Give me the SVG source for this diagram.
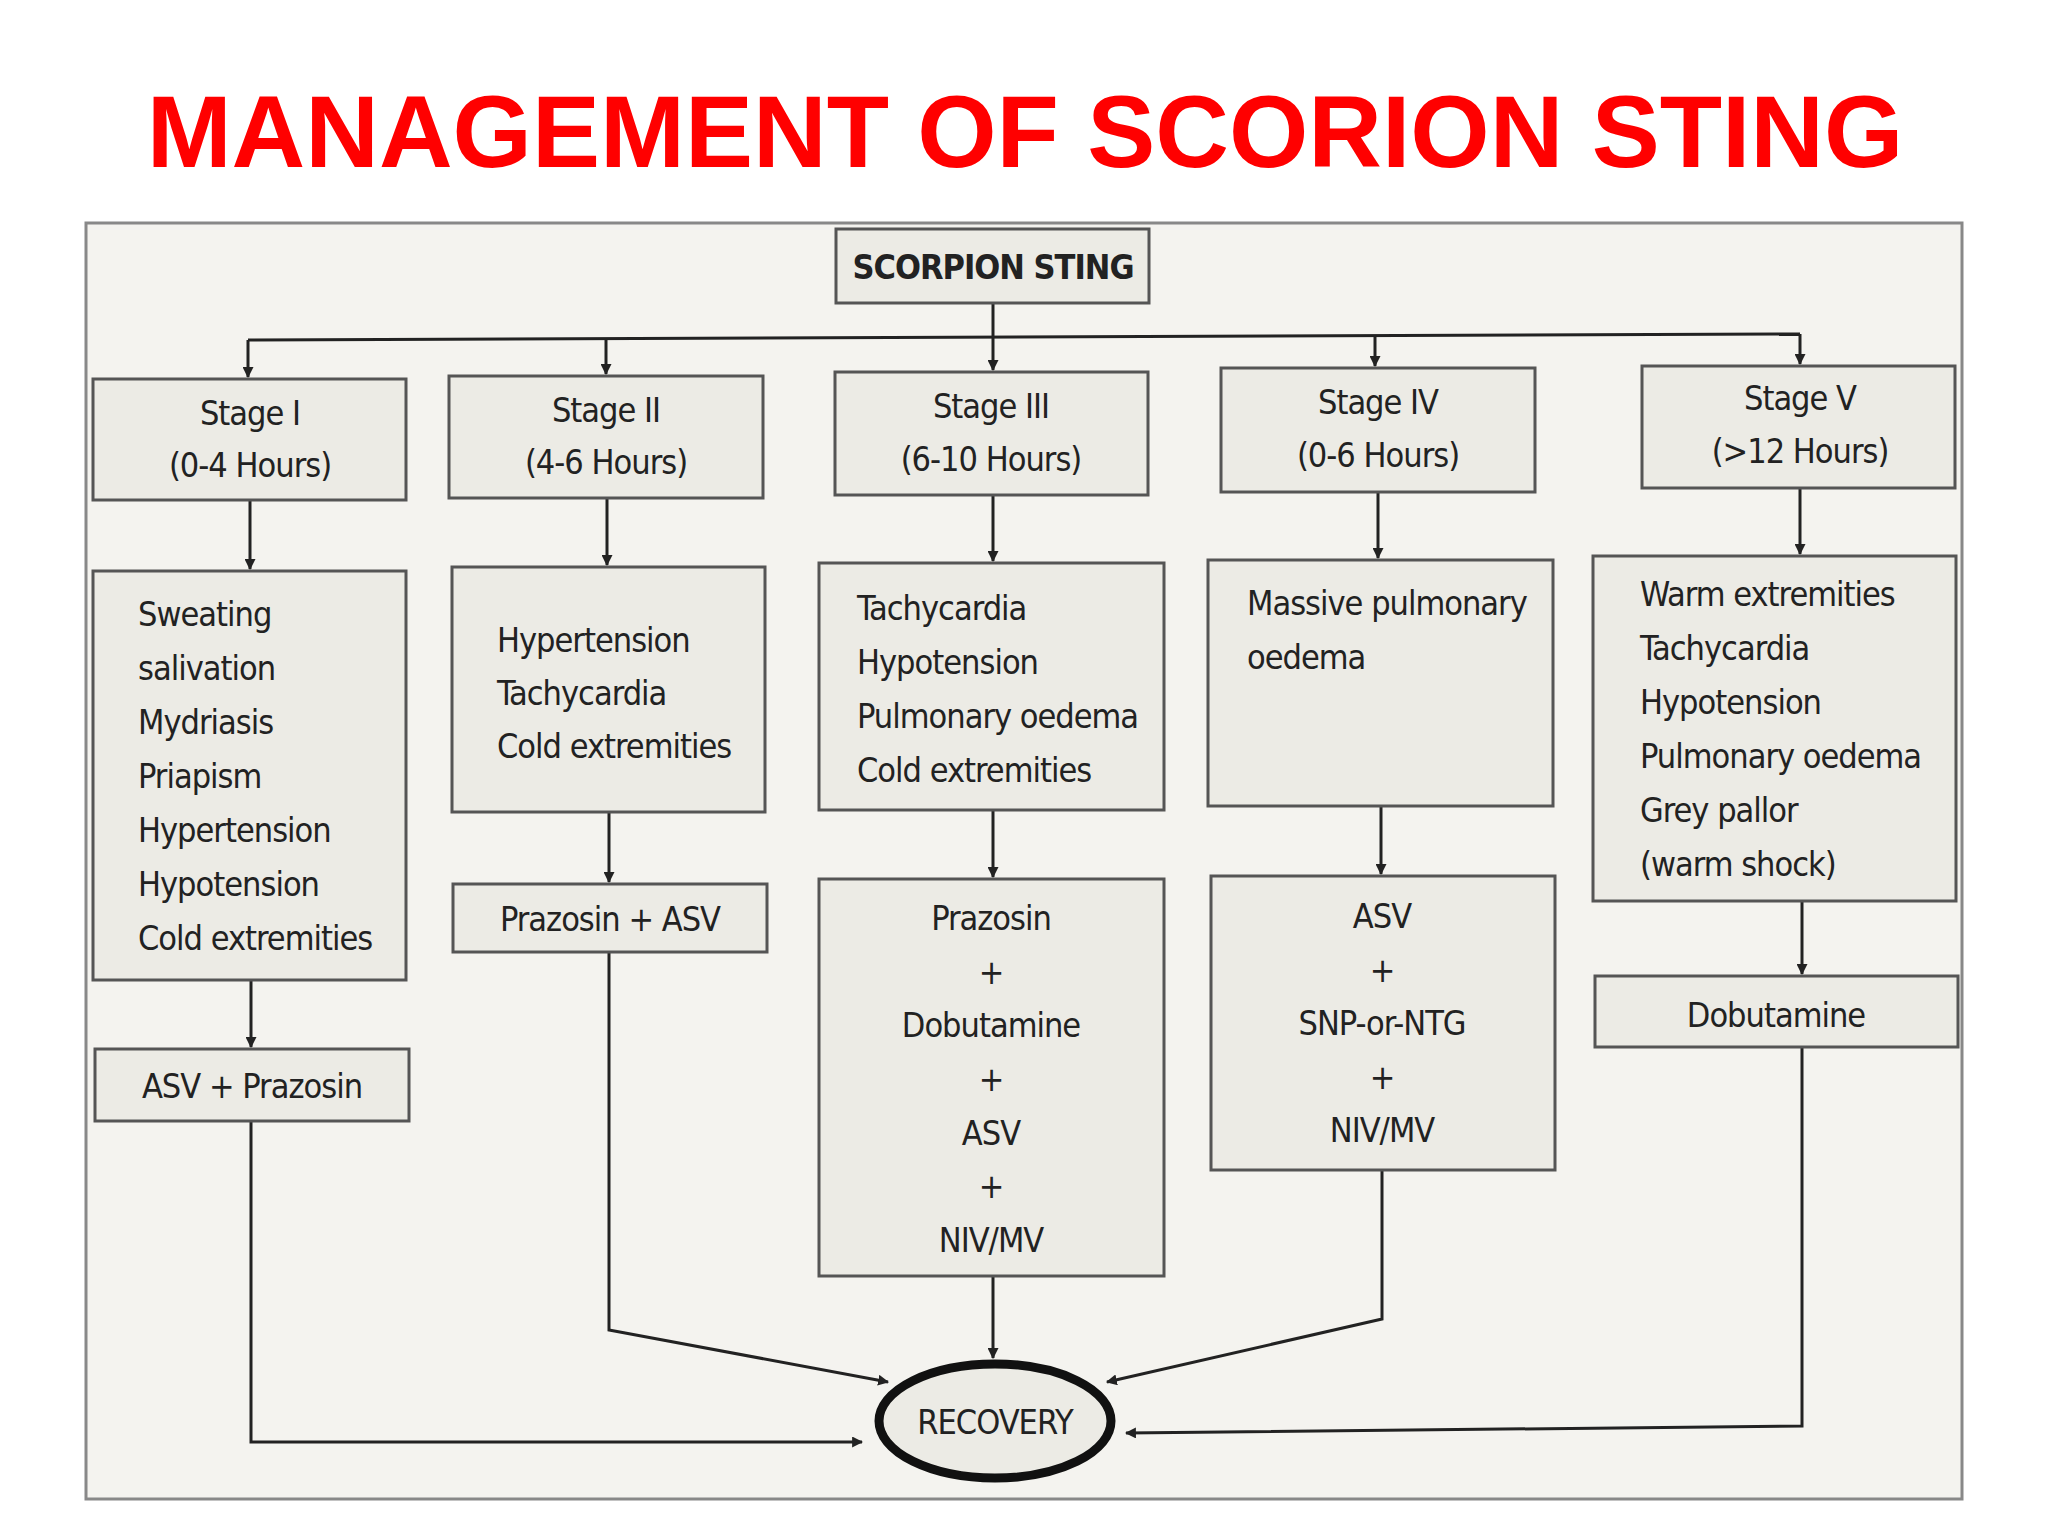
<svg xmlns="http://www.w3.org/2000/svg" width="2048" height="1536" viewBox="0 0 2048 1536">
<defs>
<marker id="ah" viewBox="0 0 10 10" refX="9" refY="5" markerWidth="11" markerHeight="11" orient="auto-start-reverse" markerUnits="userSpaceOnUse"><path d="M0,0 L10,5 L0,10 z" fill="#222"/></marker>
<style>
.box{fill:#ecebe5;stroke:#555;stroke-width:3}
.t{font-family:"Liberation Sans Narrow","DejaVu Sans Condensed","Liberation Sans",sans-serif;font-size:34px;letter-spacing:-1px;fill:#222}
.c{text-anchor:middle}
.ln{fill:none;stroke:#222;stroke-width:3}
.ar{fill:none;stroke:#222;stroke-width:3;marker-end:url(#ah)}
</style>
</defs>
<rect width="2048" height="1536" fill="#fff"/>
<text x="1025" y="167" text-anchor="middle" font-family="Liberation Sans,Arial,sans-serif" font-weight="bold" font-size="102" fill="#f00">MANAGEMENT OF SCORION STING</text>
<rect x="86" y="223" width="1876" height="1276" fill="#f4f3ef" stroke="#888" stroke-width="3"/>

<g id="connectors">
<line class="ln" x1="993" y1="303" x2="993" y2="337"/>
<line class="ln" x1="248" y1="340" x2="1800" y2="334"/>
<line class="ar" x1="248" y1="340" x2="248" y2="377"/>
<line class="ar" x1="606" y1="338" x2="606" y2="374"/>
<line class="ar" x1="993" y1="337" x2="993" y2="370"/>
<line class="ar" x1="1375" y1="335" x2="1375" y2="366"/>
<line class="ar" x1="1800" y1="334" x2="1800" y2="364"/>
<line class="ar" x1="250" y1="500" x2="250" y2="569"/>
<line class="ar" x1="607" y1="498" x2="607" y2="565"/>
<line class="ar" x1="993" y1="495" x2="993" y2="561"/>
<line class="ar" x1="1378" y1="492" x2="1378" y2="558"/>
<line class="ar" x1="1800" y1="488" x2="1800" y2="554"/>
<line class="ar" x1="251" y1="980" x2="251" y2="1047"/>
<line class="ar" x1="609" y1="812" x2="609" y2="882"/>
<line class="ar" x1="993" y1="810" x2="993" y2="877"/>
<line class="ar" x1="1381" y1="806" x2="1381" y2="874"/>
<line class="ar" x1="1802" y1="901" x2="1802" y2="974"/>
<path class="ar" d="M251,1121 V1442 H862"/>
<path class="ar" d="M609,952 V1330 L888,1382"/>
<path class="ar" d="M993,1276 V1358"/>
<path class="ar" d="M1382,1170 V1319 L1107,1382"/>
<path class="ar" d="M1802,1047 V1426 L1126,1433"/>
</g>

<g id="sting"><rect class="box" x="836" y="229" width="313" height="74"/><text class="t c" x="993" y="279" font-weight="bold">SCORPION STING</text></g>

<g id="stage1"><rect class="box" x="93" y="379" width="313" height="121"/><text class="t c" x="250" y="425">Stage I</text><text class="t c" x="250" y="477">(0-4 Hours)</text></g>
<g id="stage2"><rect class="box" x="449" y="376" width="314" height="122"/><text class="t c" x="606" y="422">Stage II</text><text class="t c" x="606" y="474">(4-6 Hours)</text></g>
<g id="stage3"><rect class="box" x="835" y="372" width="313" height="123"/><text class="t c" x="991" y="418">Stage III</text><text class="t c" x="991" y="471">(6-10 Hours)</text></g>
<g id="stage4"><rect class="box" x="1221" y="368" width="314" height="124"/><text class="t c" x="1378" y="414">Stage IV</text><text class="t c" x="1378" y="467">(0-6 Hours)</text></g>
<g id="stage5"><rect class="box" x="1642" y="366" width="313" height="122"/><text class="t c" x="1800" y="410">Stage V</text><text class="t c" x="1800" y="463">(&gt;12 Hours)</text></g>

<g id="sym1"><rect class="box" x="93" y="571" width="313" height="409"/>
<text class="t" x="138" y="626">Sweating</text><text class="t" x="138" y="680">salivation</text><text class="t" x="138" y="734">Mydriasis</text><text class="t" x="138" y="788">Priapism</text><text class="t" x="138" y="842">Hypertension</text><text class="t" x="138" y="896">Hypotension</text><text class="t" x="138" y="950">Cold extremities</text></g>
<g id="sym2"><rect class="box" x="452" y="567" width="313" height="245"/>
<text class="t" x="497" y="652">Hypertension</text><text class="t" x="497" y="705">Tachycardia</text><text class="t" x="497" y="758">Cold extremities</text></g>
<g id="sym3"><rect class="box" x="819" y="563" width="345" height="247"/>
<text class="t" x="857" y="620">Tachycardia</text><text class="t" x="857" y="674">Hypotension</text><text class="t" x="857" y="728">Pulmonary oedema</text><text class="t" x="857" y="782">Cold extremities</text></g>
<g id="sym4"><rect class="box" x="1208" y="560" width="345" height="246"/>
<text class="t" x="1247" y="615">Massive pulmonary</text><text class="t" x="1247" y="669">oedema</text></g>
<g id="sym5"><rect class="box" x="1593" y="556" width="363" height="345"/>
<text class="t" x="1640" y="606">Warm extremities</text><text class="t" x="1640" y="660">Tachycardia</text><text class="t" x="1640" y="714">Hypotension</text><text class="t" x="1640" y="768">Pulmonary oedema</text><text class="t" x="1640" y="822">Grey pallor</text><text class="t" x="1640" y="876">(warm shock)</text></g>

<g id="tx1"><rect class="box" x="95" y="1049" width="314" height="72"/><text class="t c" x="252" y="1098">ASV + Prazosin</text></g>
<g id="tx2"><rect class="box" x="453" y="884" width="314" height="68"/><text class="t c" x="610" y="931">Prazosin + ASV</text></g>
<g id="tx3"><rect class="box" x="819" y="879" width="345" height="397"/>
<text class="t c" x="991" y="930">Prazosin</text><text class="t c" x="991" y="984">+</text><text class="t c" x="991" y="1037">Dobutamine</text><text class="t c" x="991" y="1091">+</text><text class="t c" x="991" y="1145">ASV</text><text class="t c" x="991" y="1198">+</text><text class="t c" x="991" y="1252">NIV/MV</text></g>
<g id="tx4"><rect class="box" x="1211" y="876" width="344" height="294"/>
<text class="t c" x="1382" y="928">ASV</text><text class="t c" x="1382" y="982">+</text><text class="t c" x="1382" y="1035">SNP-or-NTG</text><text class="t c" x="1382" y="1089">+</text><text class="t c" x="1382" y="1142">NIV/MV</text></g>
<g id="tx5"><rect class="box" x="1595" y="976" width="363" height="71"/><text class="t c" x="1776" y="1027">Dobutamine</text></g>

<g id="recovery"><ellipse cx="995" cy="1421" rx="116" ry="57" fill="#ecebe5" stroke="#111" stroke-width="9"/><text class="t c" x="995" y="1434">RECOVERY</text></g>
</svg>
